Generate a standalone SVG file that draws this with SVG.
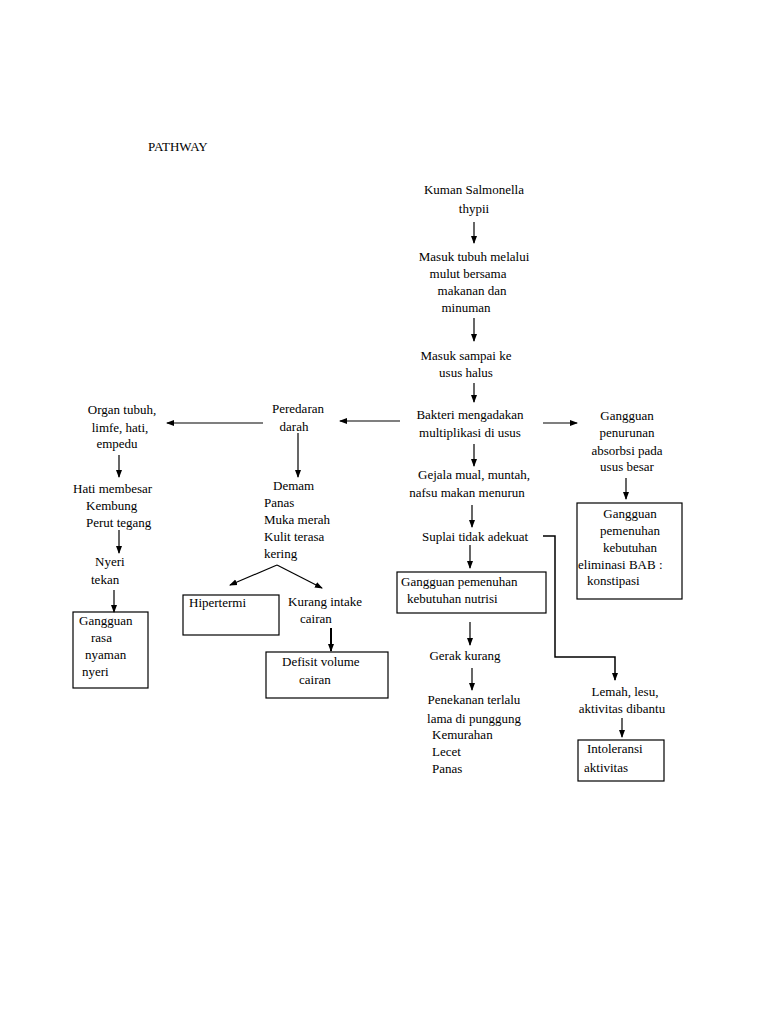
<svg xmlns="http://www.w3.org/2000/svg" width="768" height="1024" viewBox="0 0 768 1024">
<defs><marker id="a" markerWidth="8" markerHeight="8" refX="7" refY="4" orient="auto" markerUnits="userSpaceOnUse"><path d="M0,1 L8,4 L0,7 Z" fill="#000"/></marker></defs>
<style>text{font-family:"Liberation Serif",serif;font-size:13px;fill:#000}.m{text-anchor:middle}rect{fill:#fff;stroke:#000;stroke-width:1.2}line,polyline{stroke:#000;stroke-width:1.2;fill:none}</style>
<rect x="0" y="0" width="768" height="1024" style="stroke:none"/>
<text x="148" y="151">PATHWAY</text>
<g id="n1"><text class="m" x="474" y="194">Kuman Salmonella</text><text class="m" x="474" y="213">thypii</text></g>
<g id="n2"><text class="m" x="474" y="261">Masuk tubuh melalui</text><text class="m" x="468" y="278">mulut bersama</text><text class="m" x="472" y="295">makanan dan</text><text class="m" x="466" y="312">minuman</text></g>
<g id="n3"><text class="m" x="466" y="360">Masuk sampai ke</text><text class="m" x="466" y="377">usus halus</text></g>
<g id="n4"><text class="m" x="470" y="419">Bakteri mengadakan</text><text class="m" x="470" y="437">multiplikasi di usus</text></g>
<g id="n5"><text class="m" x="298" y="413">Peredaran</text><text class="m" x="294" y="431">darah</text></g>
<g id="n6"><text class="m" x="122" y="414">Organ tubuh,</text><text class="m" x="120" y="432">limfe, hati,</text><text class="m" x="117" y="448">empedu</text></g>
<g id="n7"><text x="73" y="493">Hati membesar</text><text x="86" y="510">Kembung</text><text x="86" y="527">Perut tegang</text></g>
<g id="n8"><text x="95" y="566">Nyeri</text><text x="91" y="584">tekan</text></g>
<g id="n9"><rect x="73" y="612" width="75" height="76"/><text x="79" y="625">Gangguan</text><text x="91" y="642">rasa</text><text x="85" y="659">nyaman</text><text x="82" y="676">nyeri</text></g>
<g id="n10"><text x="273" y="490">Demam</text><text x="264" y="507">Panas</text><text x="264" y="524">Muka merah</text><text x="264" y="541">Kulit terasa</text><text x="264" y="558">kering</text></g>
<g id="n11"><rect x="183" y="595" width="96" height="40"/><text x="189" y="607">Hipertermi</text></g>
<g id="n12"><text x="288" y="606">Kurang intake</text><text x="300" y="623">cairan</text></g>
<g id="n13"><rect x="266" y="652" width="122" height="46"/><text x="282" y="666">Defisit volume</text><text x="299" y="684">cairan</text></g>
<g id="n14"><text class="m" x="627" y="420">Gangguan</text><text class="m" x="627" y="437">penurunan</text><text class="m" x="627" y="455">absorbsi pada</text><text class="m" x="627" y="471">usus besar</text></g>
<g id="n15"><rect x="577" y="503" width="105" height="96"/><text class="m" x="630" y="518">Gangguan</text><text class="m" x="630" y="535">pemenuhan</text><text class="m" x="630" y="552">kebutuhan</text><text x="578" y="569">eliminasi BAB :</text><text x="587" y="585">konstipasi</text></g>
<g id="n16"><text class="m" x="474" y="479">Gejala mual, muntah,</text><text class="m" x="467" y="497">nafsu makan menurun</text></g>
<g id="n17"><text class="m" x="475" y="541">Suplai tidak adekuat</text></g>
<g id="n18"><rect x="397" y="572" width="149" height="41"/><text x="401" y="586">Gangguan pemenuhan</text><text x="407" y="603">kebutuhan nutrisi</text></g>
<g id="n19"><text class="m" x="465" y="660">Gerak kurang</text></g>
<g id="n20"><text class="m" x="474" y="704">Penekanan terlalu</text><text class="m" x="474" y="723">lama di punggung</text><text x="432" y="739">Kemurahan</text><text x="432" y="756">Lecet</text><text x="432" y="773">Panas</text></g>
<g id="n21"><text class="m" x="625" y="696">Lemah, lesu,</text><text class="m" x="622" y="713">aktivitas dibantu</text></g>
<g id="n22"><rect x="578" y="740" width="86" height="41"/><text x="587" y="753">Intoleransi</text><text x="584" y="772">aktivitas</text></g>
<g id="connectors" marker-end="url(#a)">
<line x1="474" y1="222" x2="474" y2="243"/>
<line x1="474" y1="318" x2="474" y2="341"/>
<line x1="474" y1="383" x2="474" y2="402"/>
<line x1="400" y1="421" x2="340" y2="421"/>
<line x1="263" y1="423" x2="167" y2="423"/>
<line x1="119" y1="455" x2="119" y2="477"/>
<line x1="119" y1="530" x2="119" y2="553"/>
<line x1="114" y1="590" x2="114" y2="612"/>
<line x1="298" y1="433" x2="298" y2="477"/>
<polyline points="277,565 230,585" marker-end="url(#a)"/>
<polyline points="277,565 322,588" marker-end="url(#a)"/>
<line x1="331" y1="628" x2="331" y2="651" style="stroke-width:2"/>
<line x1="543" y1="423" x2="577" y2="423"/>
<line x1="626" y1="478" x2="626" y2="499"/>
<line x1="474" y1="444" x2="474" y2="466"/>
<line x1="472" y1="505" x2="472" y2="527"/>
<line x1="470" y1="545" x2="470" y2="568"/>
<polyline points="543,536 555,536 555,657 615,657 615,680" style="stroke-width:1.5"/>
<line x1="470" y1="622" x2="470" y2="645"/>
<line x1="472" y1="668" x2="472" y2="690"/>
<line x1="622" y1="718" x2="622" y2="737"/>
</g>
</svg>
